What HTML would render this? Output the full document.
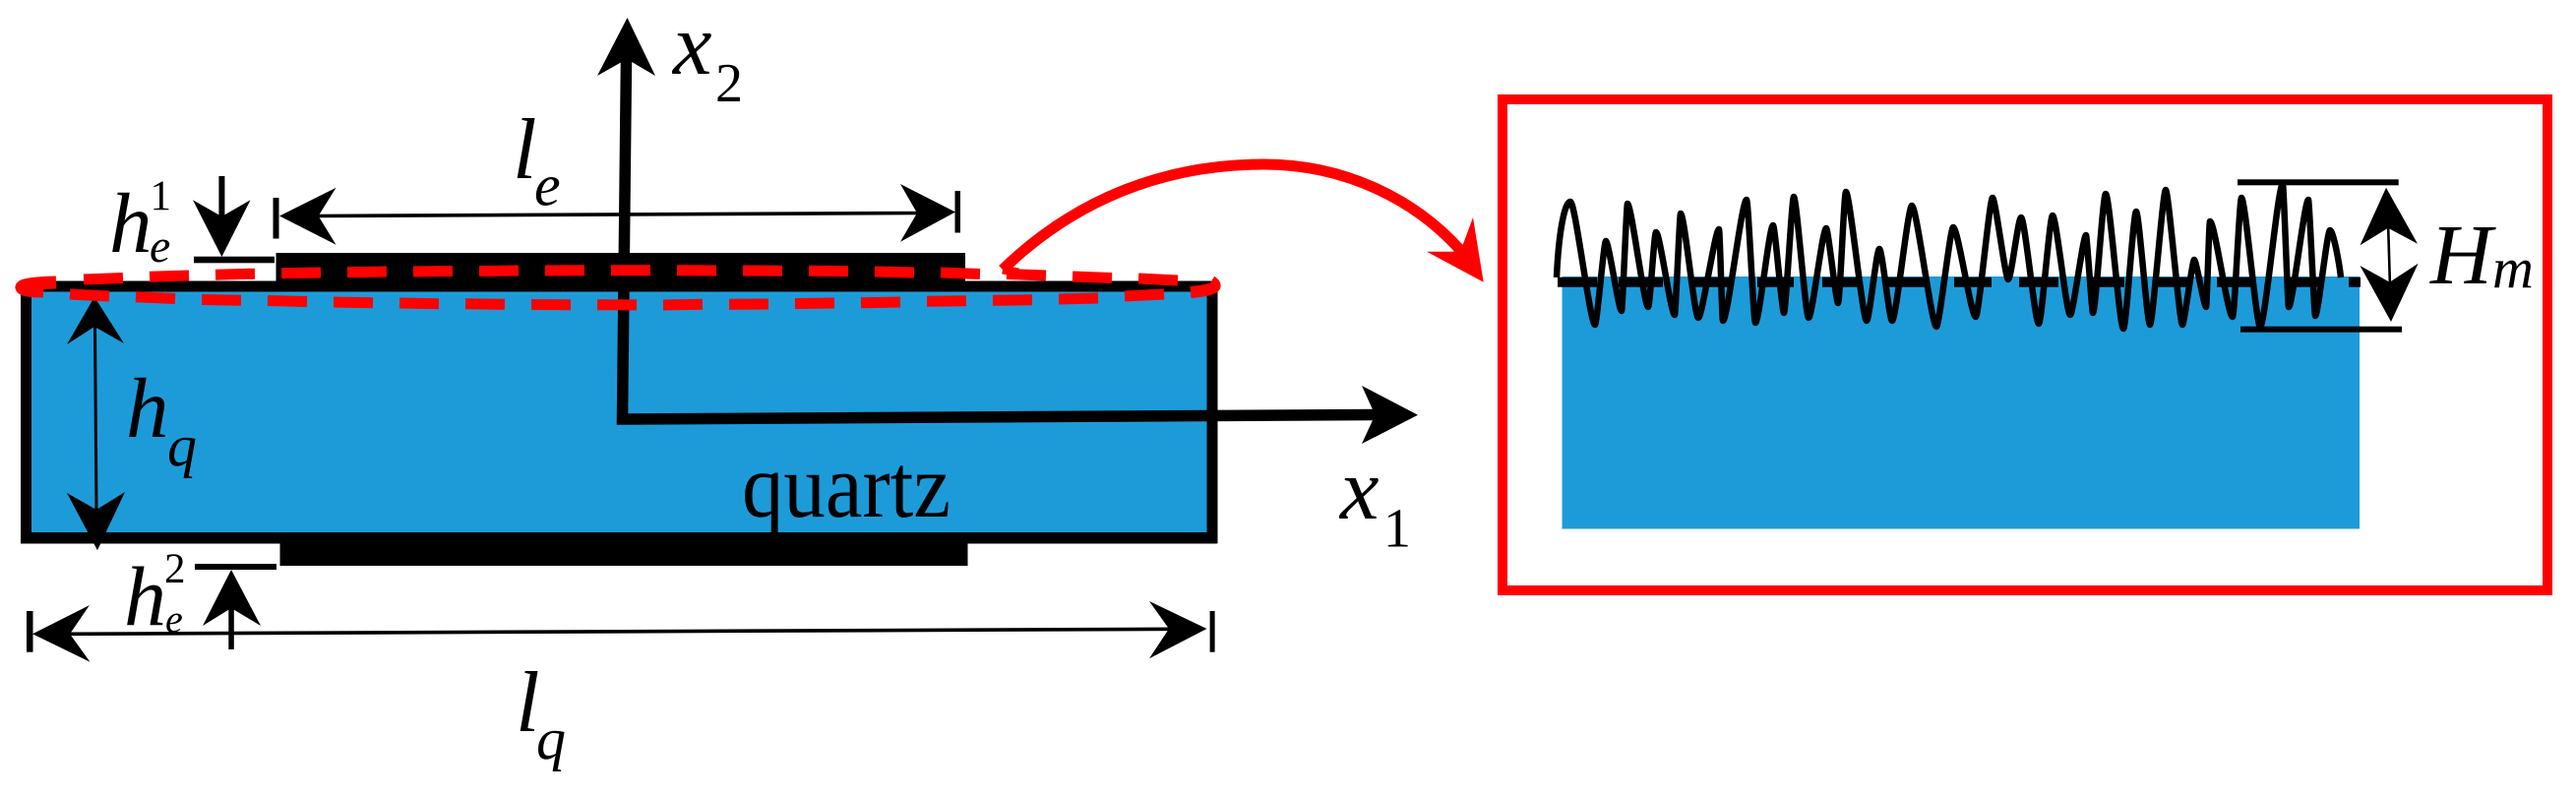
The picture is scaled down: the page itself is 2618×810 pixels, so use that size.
<!DOCTYPE html>
<html>
<head>
<meta charset="utf-8">
<style>
html,body{margin:0;padding:0;background:#fff;width:2618px;height:810px;overflow:hidden}
svg{display:block}
text{font-family:"Liberation Serif",serif;fill:#000}
.i{font-style:italic}
</style>
</head>
<body>
<svg width="2618" height="810" viewBox="0 0 2618 810" xmlns="http://www.w3.org/2000/svg">
<rect width="2618" height="810" fill="#fff"/>

<!-- quartz plate -->
<rect x="26.5" y="291" width="1205.5" height="255.5" fill="#1D9BD9" stroke="#000" stroke-width="11"/>
<rect x="21" y="286" width="1216" height="10.5" fill="#000"/>
<rect x="21" y="541" width="1216" height="11.5" fill="#000"/>
<!-- electrodes -->
<rect x="280.5" y="257" width="700.5" height="30" fill="#000"/>
<rect x="284.5" y="550" width="699" height="25" fill="#000"/>

<text class="i" x="521" y="181" font-size="88">l</text>
<text class="i" x="543" y="208.5" font-size="60">e</text>
<text class="i" x="111" y="256" font-size="87">h</text>
<text class="i" x="152" y="266" font-size="48">e</text>
<text x="152.5" y="213" font-size="43">1</text>
<text class="i" x="684" y="75" font-size="89">x</text>
<text x="727" y="103" font-size="56">2</text>
<text class="i" x="128" y="444" font-size="87">h</text>
<text class="i" x="170" y="473" font-size="60">q</text>
<text class="i" x="126" y="635" font-size="86">h</text>
<text class="i" x="168" y="642.7" font-size="40">e</text>
<text x="167" y="592" font-size="43">2</text>
<text class="i" x="524" y="743" font-size="88">l</text>
<text class="i" x="545" y="771" font-size="60">q</text>
<text x="754" y="525" font-size="92" textLength="212" lengthAdjust="spacingAndGlyphs">quartz</text>
<text class="i" x="1362" y="527" font-size="89">x</text>
<text x="1406" y="555.7" font-size="56">1</text>

<!-- axes -->
<path d="M636.5 60 L632.5 426 L1398 421.5" fill="none" stroke="#000" stroke-width="11.5" stroke-linejoin="miter"/>
<polygon points="637.5,18 666,77 637,60 607,77" fill="#000"/>
<polygon points="1441,421.7 1384,392 1397.5,421.7 1384,451" fill="#000"/>

<!-- l_e dimension -->
<rect x="277.5" y="201" width="6" height="41.5" fill="#000"/>
<rect x="970.5" y="194" width="5.5" height="42.5" fill="#000"/>
<path d="M320 219.5 L935 216.5" stroke="#000" stroke-width="3.6" fill="none"/>
<polygon points="284,219.5 341.5,190.7 323.6,219.5 341.5,248.7" fill="#000"/>
<polygon points="971,215.5 915,187 932,216.5 915,245.7" fill="#000"/>

<!-- h_e^1 -->
<rect x="222.4" y="179" width="6" height="50" fill="#000"/>
<polygon points="225.4,261 196,203.3 225.4,220 254.5,203.3" fill="#000"/>
<rect x="197" y="260.7" width="82" height="6.6" fill="#000"/>

<!-- h_q -->
<path d="M96.5 330 L98 520" stroke="#000" stroke-width="3" fill="none"/>
<polygon points="96,301.7 126,349 96,332 68,350" fill="#000"/>
<polygon points="99,559.3 68,501 98,518 127,500" fill="#000"/>

<!-- h_e^2 -->
<rect x="198" y="573" width="83" height="6" fill="#000"/>
<rect x="232.3" y="612" width="5.5" height="48" fill="#000"/>
<polygon points="235,579 265,636 235,618 206,636" fill="#000"/>

<!-- l_q -->
<rect x="27" y="621" width="6.5" height="41.7" fill="#000"/>
<rect x="1229.6" y="621" width="5" height="41.7" fill="#000"/>
<path d="M68 644.3 L1192 639.3" stroke="#000" stroke-width="3.6" fill="none"/>
<polygon points="33,644.3 91,615 71,644.3 91.5,672.7" fill="#000"/>
<polygon points="1226.5,639 1168,611 1188,639 1168,669.3" fill="#000"/>

<!-- red dashed ellipse -->
<g fill="none" stroke="#f00" stroke-width="11">
<path d="M85 284L125 282.5M152 281.3L192 280M219 279.2L259 278.2M286 277.7L326 277M353 276.7L393 276M420 276L460 275.5M487 275.5L527 275M554 275L594 274.8M621 274.7L661 274.7M688 274.8L728 275M755 275L795 275.2M822 275.3L862 275.6M889 276L929 277M956 277L996 278.5M1023 278.5L1063 280M1090 281L1130 282.5M1157 283L1197 285"/>
<path d="M71 299L111 301M138 301.7L178 303.5M205 304.5L245 305.3M272 305.5L312 306.5M339 307L379 307.7M406 308L446 308.7M473 308.7L513 309.3M540 309.5L580 309.8M607 309.7L647 309.9M674 310L714 309.3M741 309.2L781 309M808 308.5L848 308M875 307.7L915 307M942 306.3L982 305.7M1009 305.3L1049 304.7M1076 304L1116 303M1143 301L1183 299"/>
<path d="M57 287 Q23 288 22 292 Q23 296 44 296" stroke-width="13"/>
<path d="M1210 297 Q1244 294 1231 286" stroke-width="12"/>
</g>

<!-- red curved arrow -->
<path d="M1019 274 C1090 205,1180 167,1284 167 C1370 167,1440 205,1484 254" fill="none" stroke="#f00" stroke-width="11"/>
<path d="M1019 274 L1035 277" fill="none" stroke="#f00" stroke-width="9"/>
<polygon points="1497,221 1507.7,286.7 1450,255.7 1477,255.7 1487,248" fill="#f00"/>

<!-- detail box -->
<rect x="1527" y="101" width="1062" height="499" fill="#fff" stroke="#f00" stroke-width="10"/>
<rect x="1587.5" y="281" width="810.5" height="256.5" fill="#1D9BD9"/>

<!-- mean line -->
<path d="M1583 286.7H1623M1645 286.7H1690M1720 286.7H1757M1786 286.7H1823M1852 286.7H1891M1918 286.7H1957M1986 286.7H2024M2052 286.7H2092M2121 286.7H2159M2189 286.7H2228M2253 286.7H2291M2322 286.7H2360M2387 286.7H2399" stroke="#000" stroke-width="10" fill="none"/>

<!-- rough surface -->
<path fill="none" stroke="#000" stroke-width="6.5" stroke-linejoin="round" d="M1582 282
c2 -45 8 -77 14 -77 c5 0 20 125 25 125 c2 0 9 -85 11 -85 c3 0 13 71 16 71 c1 0 5 -109 6 -109 c4 0 17 105 21 105 c2 0 6 -76 8 -76 c4 0 15 84 19 84 c1 0 5 -103 6 -103 c4 0 14 106 18 106 c4 0 17 -90 21 -90 c1 0 3 93 4 93 c5 0 19 -123 24 -123 c2 0 7 125 9 125 c4 0 14 -99 18 -99 c2 0 9 89 11 89 c2 0 8 -118 10 -118 c3 0 12 123 15 123 c4 0 14 -91 18 -91 c2 0 10 76 12 76 c2 0 6 -113 8 -113 c4 0 17 131 21 131 c3 0 10 -73 13 -73 c3 0 10 73 13 73 c4 0 16 -117 20 -117 c5 0 20 123 25 123 c3 0 14 -101 17 -101 c5 0 18 91 23 91 c3 0 14 -121 17 -121 c3 0 13 83 16 83 c3 0 10 -63 13 -63 c4 0 14 108 18 108 c3 0 11 -110 14 -110 c4 0 14 101 18 101 c3 0 13 -81 16 -81 c1 0 6 79 7 79 c3 0 10 -121 13 -121 c4 0 14 137 18 137 c3 0 10 -119 13 -119 c3 0 11 115 14 115 c3 0 13 -137 16 -137 c3 0 14 137 17 137 c2 0 10 -66 12 -66 c2 0 10 48 12 48 c1 0 3 -87 4 -87 c5 0 18 97 23 97 c2 0 7 -121 9 -121 c4 0 15 131 19 131 c5 0 18 -145 23 -145 c1 0 5 125 6 125 c4 0 16 -109 20 -109 c1 0 6 118 7 118 c3 0 12 -87 15 -87 c3 0 9 30 11 48"/>

<!-- H_m dimension -->
<rect x="2274" y="182.3" width="163.7" height="6" fill="#000"/>
<rect x="2277" y="331.7" width="164" height="6" fill="#000"/>
<path d="M2427 225 L2429 292" stroke="#000" stroke-width="2.6" fill="none"/>
<polygon points="2425,190.7 2457,247.7 2427,231.7 2398.5,249.3" fill="#000"/>
<polygon points="2430,327 2398.5,270 2428.6,286.7 2457.6,267.7" fill="#000"/>
<text class="i" x="2470" y="288" font-size="87">H</text>
<text class="i" x="2533" y="292" font-size="58">m</text>
</svg>
</body>
</html>
